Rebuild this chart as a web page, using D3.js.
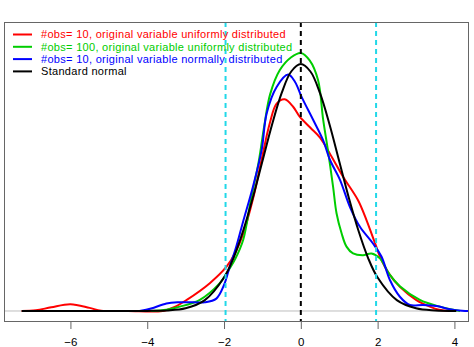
<!DOCTYPE html>
<html><head><meta charset="utf-8">
<script src="https://cdn.jsdelivr.net/npm/d3@7"></script>
<style>body{margin:0;background:#fff}svg{display:block}</style>
</head><body>
<script>
const xTicks = [-6, -4, -2, 0, 2, 4];
const vlinesCyan = [-1.96, 1.96];
const vlineBlack = [0];

const blackX = [-7.27,-5,-4,-3.5,-3,-2.5,-2,-1.75,-1.5,-1.25,-1,-0.75,-0.5,-0.25,0,0.25,0.5,0.75,1,1.25,1.5,1.75,2,2.5,3,3.5,4.05];
const blackY = [0,0,0.0001,0.0009,0.0044,0.0175,0.054,0.086,0.130,0.183,0.242,0.301,0.352,0.387,0.399,0.387,0.352,0.301,0.242,0.183,0.130,0.086,0.054,0.0175,0.0044,0.0009,0.0001];

const redX = [-7.27,-6.9,-6.5,-6.0,-5.5,-5.2,-4.5,-3.6,-3.3,-2.97,-2.37,-1.93,-1.7,-1.5,-1.25,-1.02,-0.81,-0.63,-0.42,-0.2,-0.03,0.25,0.5,0.75,1.1,1.49,1.71,1.93,2.06,2.3,2.58,3.0,3.36,3.6,3.9];
const redY = [0,0.001,0.006,0.011,0.005,0.0005,0,0,0.006,0.018,0.045,0.072,0.095,0.125,0.18,0.245,0.303,0.335,0.342,0.33,0.314,0.296,0.28,0.255,0.217,0.179,0.147,0.110,0.088,0.06,0.039,0.018,0.007,0.002,0];

const greenX = [-3.9,-3.5,-3.15,-2.63,-2.11,-1.93,-1.7,-1.5,-1.3,-1.1,-0.95,-0.8,-0.55,-0.25,0,0.23,0.45,0.58,0.71,0.84,0.93,1.06,1.19,1.36,1.62,1.84,2.06,2.3,2.58,3.1,3.62,3.96,4.15];
const greenY = [0,0.002,0.007,0.018,0.045,0.061,0.085,0.115,0.18,0.24,0.30,0.35,0.389,0.41,0.417,0.405,0.373,0.31,0.258,0.201,0.158,0.126,0.104,0.093,0.090,0.093,0.085,0.06,0.040,0.018,0.007,0.002,0];

const blueX = [-4.2,-3.9,-3.5,-3.2,-2.8,-2.5,-2.2,-2.0,-1.85,-1.7,-1.5,-1.25,-1.02,-0.89,-0.63,-0.33,-0.15,0.02,0.32,0.58,0.76,1.02,1.28,1.54,1.88,2.1,2.32,2.58,2.84,3.18,3.53,3.88,4.2,4.6];
const blueY = [0,0.004,0.012,0.014,0.014,0.014,0.02,0.042,0.072,0.10,0.145,0.20,0.26,0.319,0.362,0.382,0.37,0.346,0.309,0.276,0.244,0.212,0.168,0.136,0.109,0.088,0.050,0.023,0.0097,0.0097,0.008,0.003,0.0005,0];

const legendLabels = ["#obs= 10, original variable uniformly distributed",
  "#obs= 100, original variable uniformly distributed",
  "#obs= 10, original variable normally distributed",
  "Standard normal"];
const colors = ["#ff0000", "#00cd00", "#0000ff", "#000000"];

const W = 474, H = 347;
const L = 4, R = 469, T = 22, B = 322;
const svg = d3.select("body").append("svg").attr("width", W).attr("height", H);
const x = d3.scaleLinear().domain([-7.73, 4.38]).range([L, R]);
const y = d3.scaleLinear().domain([-0.0178, 0.467]).range([B, T]);

svg.append("clipPath").attr("id","clip").append("rect")
  .attr("x", L).attr("y", T).attr("width", R-L).attr("height", B-T);
const g = svg.append("g").attr("clip-path","url(#clip)");

g.append("line").attr("x1", L).attr("x2", R).attr("y1", y(0)).attr("y2", y(0))
  .attr("stroke", "#bebebe").attr("stroke-width", 1);

const line = d3.line().x(d => x(d[0])).y(d => y(d[1])).curve(d3.curveCatmullRom.alpha(0.5));
const series = [[redX, redY], [greenX, greenY], [blueX, blueY], [blackX, blackY]];
series.forEach((s, i) => {
  const pts = s[0].map((v, j) => [v, s[1][j]]);
  g.append("path").attr("d", line(pts)).attr("fill", "none")
    .attr("stroke", colors[i]).attr("stroke-width", 2).attr("stroke-linejoin","round");
});

vlinesCyan.forEach(v => {
  g.append("line").attr("x1", x(v)).attr("x2", x(v)).attr("y1", T).attr("y2", B)
    .attr("stroke", "#22d8e8").attr("stroke-width", 2).attr("stroke-dasharray", "5,4");
});
vlineBlack.forEach(v => {
  g.append("line").attr("x1", x(v)).attr("x2", x(v)).attr("y1", T).attr("y2", B)
    .attr("stroke", "#000").attr("stroke-width", 2).attr("stroke-dasharray", "5,4");
});

svg.append("rect").attr("x", L+0.5).attr("y", T+0.5).attr("width", R-L-1).attr("height", B-T-1)
  .attr("fill", "none").attr("stroke", "#666").attr("stroke-width", 1);

const ax = svg.append("g").attr("transform", `translate(0,${B})`)
  .call(d3.axisBottom(x).tickValues(xTicks).tickSize(7).tickPadding(9).tickFormat(d3.format("d")));
ax.select(".domain").remove();
ax.selectAll("line").attr("stroke", "#666");
ax.selectAll("text").attr("font-family", "Liberation Sans, Arial, sans-serif").attr("font-size", 11.5).attr("fill", "#000");

const lg = svg.append("g");
legendLabels.forEach((t, i) => {
  const yy = 34.5 + i * 12.3;
  lg.append("line").attr("x1", 13).attr("x2", 32).attr("y1", yy).attr("y2", yy)
    .attr("stroke", colors[i]).attr("stroke-width", 2);
  lg.append("text").attr("x", 41).attr("y", yy).attr("dy", "0.35em")
    .attr("font-family", "Liberation Sans, Arial, sans-serif").attr("font-size", 11)
    .attr("letter-spacing", 0.3)
    .attr("fill", colors[i]).text(t);
});
</script>
</body></html>
